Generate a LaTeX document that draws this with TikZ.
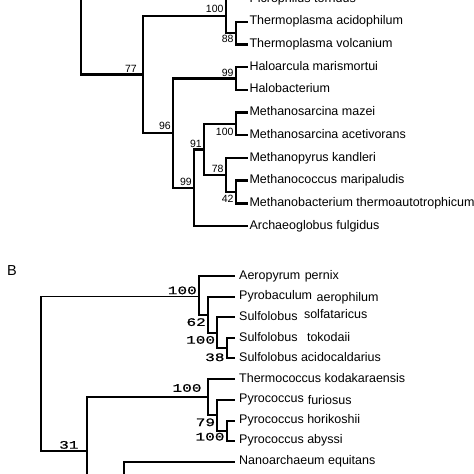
\documentclass[tikz,border=0pt]{standalone}
\usepackage{fontspec}
\setmainfont{Liberation Sans}
\newfontfamily\wideboot[FakeStretch=1.4,FakeBold=0.8]{Liberation Mono}
\usetikzlibrary{positioning}

\begin{document}
\begin{tikzpicture}[
  x=1pt, y=-1pt,
  leaf/.style={
    anchor=west, inner ysep=0pt, inner xsep=1.3pt,
    text height=8.8pt, text depth=2.6pt,
    font=\fontsize{12.5}{14}\selectfont
  },
  leafb/.style={leaf, inner xsep=4pt},
  supp/.style={inner sep=2pt, font=\fontsize{10.5}{12}\selectfont},
  suppb/.style={inner sep=2pt, font=\fontsize{11.5}{12}\wideboot},
  branch/.style={line width=2.4pt, draw=black},
  branchb/.style={line width=1.9pt, draw=black}
]

\useasboundingbox (0,0) rectangle (474,474);
\fill[white] (0,0) rectangle (474,474);
\clip (0,0) rectangle (474,474);

% ── Panel A: leaves ──
\node[leaf] (pTor) at (248,-1)    {Picrophilus torridus};
\node[leaf] (tAci) at (248,21.7)  {Thermoplasma acidophilum};
\node[leaf] (tVol) at (248,44.4)  {Thermoplasma volcanium};
\node[leaf] (hMar) at (248,67.1)  {Haloarcula marismortui};
\node[leaf] (hBac) at (248,89.8)  {Halobacterium};
\node[leaf] (mMaz) at (248,112.5) {Methanosarcina mazei};
\node[leaf] (mAce) at (248,135.2) {Methanosarcina acetivorans};
\node[leaf] (mKan) at (248,157.9) {Methanopyrus kandleri};
\node[leaf] (mMar) at (248,180.6) {Methanococcus maripaludis};
\node[leaf] (mThe) at (248,203.3) {Methanobacterium thermoautotrophicum};
\node[leaf] (aFul) at (248,226)   {Archaeoglobus fulgidus};

% ── Panel A: inner nodes ──
\coordinate (nThp)  at (235.7,33);
\coordinate (nPic)  at (225.7,15.7);
\coordinate (nHal)  at (235.7,78.4);
\coordinate (nMsa)  at (235.7,123.8);
\coordinate (nMcb)  at (235.7,192);
\coordinate (n78)   at (225.7,175);
\coordinate (n91)   at (204,149.4);
\coordinate (n99)   at (194,187.7);
\coordinate (n96)   at (173,133);
\coordinate (n77)   at (143,74.3);
\coordinate (rootA) at (81,-60);

% ── Panel A: branches ──
\draw[branch] (nThp) |- (tAci.west);
\draw[branch] (nThp) |- (tVol.west);
\draw[branch] (nPic) |- (pTor.west);
\draw[branch] (nPic) |- (nThp);
\draw[branch] (nHal) |- (hMar.west);
\draw[branch] (nHal) |- (hBac.west);
\draw[branch] (nMsa) |- (mAce.west);
\draw[branch] (nMsa) |- (mMaz.west);
\draw[branch] (nMcb) |- (mMar.west);
\draw[branch] (nMcb) |- (mThe.west);
\draw[branch] (n78) |- (mKan.west);
\draw[branch] (n78) |- (nMcb);
\draw[branch] (n91) |- (nMsa);
\draw[branch] (n91) |- (n78);
\draw[branch] (n99) |- (n91);
\draw[branch] (n99) |- (aFul.west);
\draw[branch] (n96) |- (nHal);
\draw[branch] (n96) |- (n99);
\draw[branch] (n77) |- (nPic);
\draw[branch] (n77) |- (n96);
\draw[branch] (rootA) |- (n77);

% ── Panel A: support values ──
\node[supp, anchor=north east] at (nThp) {88};
\node[supp, anchor=south east, yshift=1pt] at (nPic) {100};
\node[supp, anchor=south east] at (nHal) {99};
\node[supp, anchor=north east, yshift=-2pt] at (nMsa) {100};
\node[supp, anchor=north east, yshift=-1pt] at (nMcb) {42};
\node[supp, anchor=south east] at (n78) {78};
\node[supp, anchor=south east] at (n91) {91};
\node[supp, anchor=south east] at (n99) {99};
\node[supp, anchor=south east, yshift=1pt] at (n96) {96};
\node[supp, anchor=south east, xshift=-4pt] at (n77) {77};

% ── Panel B: label ──
\node[anchor=north west, inner sep=0pt, font=\fontsize{14.5}{16}\selectfont] (panB) at (7,265) {B};

% ── Panel B: leaves ──
\node[leafb] (aPer) at (235,276)   {Aeropyrum\hspace{1pt} pernix};
\node[leafb] (pAer) at (235,296.8) {Pyrobaculum\hspace{1pt} \raisebox{-2pt}{aerophilum}};
\node[leafb] (sSol) at (235,317.4) {Sulfolobus\hspace{3pt} \raisebox{2.5pt}{solfataricus}};
\node[leafb] (sTok) at (235,338)   {Sulfolobus\hspace{6pt} tokodaii};
\node[leafb] (sAci) at (235,358.4) {Sulfolobus acidocaldarius};
\node[leafb] (tKod) at (235,379)   {Thermococcus kodakaraensis};
\node[leafb] (pFur) at (235,399.8) {Pyrococcus\hspace{0.5pt} \raisebox{-2pt}{furiosus}};
\node[leafb] (pHor) at (235,420.6) {Pyrococcus horikoshii};
\node[leafb] (pAby) at (235,440.6) {Pyrococcus abyssi};
\node[leafb] (nEqu) at (235,461.6) {Nanoarchaeum equitans};

% ── Panel B: inner nodes ──
\coordinate (n38)   at (226.7,348.2);
\coordinate (nSul)  at (217.3,332.8);
\coordinate (n62)   at (208,315);
\coordinate (nAer)  at (199,296.5);
\coordinate (nPyr)  at (226.7,430.6);
\coordinate (n79)   at (217.3,415.2);
\coordinate (nThc)  at (207.7,397.1);
\coordinate (nLow)  at (124,505);
\coordinate (n31)   at (86.7,451);
\coordinate (rootB) at (40.7,373.8);

% ── Panel B: branches ──
\draw[branchb] (n38) |- (sTok.west);
\draw[branchb] (n38) |- (sAci.west);
\draw[branchb] (nSul) |- (sSol.west);
\draw[branchb] (nSul) |- (n38);
\draw[branchb] (n62) |- (pAer.west);
\draw[branchb] (n62) |- (nSul);
\draw[branchb] (nAer) |- (aPer.west);
\draw[branchb] (nAer) |- (n62);
\draw[branchb] (nPyr) |- (pHor.west);
\draw[branchb] (nPyr) |- (pAby.west);
\draw[branchb] (n79) |- (pFur.west);
\draw[branchb] (n79) |- (nPyr);
\draw[branchb] (nThc) |- (tKod.west);
\draw[branchb] (nThc) |- (n79);
\draw[branchb] (nLow) |- (nEqu.west);
\draw[branchb] (n31) |- (nThc);
\draw[branchb] (n31) |- (nLow);
\draw[branchb] (rootB) |- (nAer);
\draw[branchb] (rootB) |- (n31);

% ── Panel B: support values ──
\node[suppb, anchor=south east] at (nAer) {100};
\node[suppb, anchor=north east, yshift=-1pt] at (n62) {62};
\node[suppb, anchor=north east, yshift=-1pt] at (nSul) {100};
\node[suppb, anchor=north east, yshift=-3pt] at (n38) {38};
\node[suppb, anchor=south east, xshift=-4pt, yshift=3pt] at (nThc) {100};
\node[suppb, anchor=north east, yshift=-1pt] at (n79) {79};
\node[suppb, anchor=north east] at (nPyr) {100};
\node[suppb, anchor=south east, xshift=-6pt] at (n31) {31};

\end{tikzpicture}
\end{document}
